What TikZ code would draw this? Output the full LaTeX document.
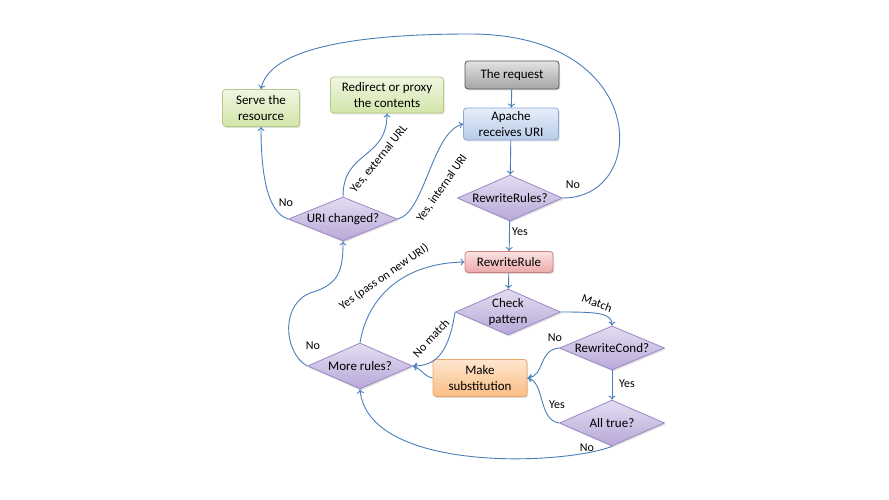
\documentclass[tikz,border=0pt]{standalone}
\usepackage{fontspec}
\setmainfont{Carlito}
\usetikzlibrary{shapes.geometric,arrows.meta,shadows}
\definecolor{linec}{HTML}{4A7EBB}
\definecolor{purptop}{HTML}{E4DDF1}
\definecolor{purpbot}{HTML}{B8A8D8}
\definecolor{purpbd}{HTML}{9A88C6}
\definecolor{greentop}{HTML}{F0F6E2}
\definecolor{greenbot}{HTML}{D2E5A9}
\definecolor{greenbd}{HTML}{B3CB85}
\definecolor{graytop}{HTML}{E2E2E2}
\definecolor{graybot}{HTML}{A5A5A5}
\definecolor{graybd}{HTML}{555555}
\definecolor{bluetop}{HTML}{E6EEF8}
\definecolor{bluebot}{HTML}{B7CBE8}
\definecolor{bluebd}{HTML}{8DA9D5}
\definecolor{redtop}{HTML}{FAE3E3}
\definecolor{redbot}{HTML}{ECA9A8}
\definecolor{redbd}{HTML}{D07E7C}
\definecolor{orgtop}{HTML}{FEE6CF}
\definecolor{orgbot}{HTML}{F9BD84}
\definecolor{orgbd}{HTML}{E8A769}
\begin{document}
\begin{tikzpicture}[x=1pt,y=-1pt,
  every node/.style={font=\fontsize{13}{16}\selectfont, align=center, text=black},
  shad/.style={drop shadow={opacity=0.25,shadow xshift=1.2pt,shadow yshift=-1.5pt}},
  box/.style={draw, rounded corners=3pt, line width=0.8pt, inner sep=0pt, shad},
  gbox/.style={box, draw=greenbd, top color=greentop, bottom color=greenbot},
  dia/.style={diamond, draw=purpbd, top color=purptop, bottom color=purpbot,
              line width=0.8pt, inner sep=0pt, shad},
  arr/.style={draw=linec, line width=0.9pt, -{To[length=4pt,width=7pt]}},
  lbl/.style={font=\fontsize{12}{14}\selectfont, inner sep=0pt}
]
\useasboundingbox (0,0) rectangle (889,500);
\fill[white] (0,0) rectangle (889,500);

% boxes
\node[gbox, minimum width=77, minimum height=37] (serve) at (261,108) {Serve the\\resource};
\node[gbox, minimum width=113, minimum height=36] (redir) at (387,95) {Redirect or proxy\\the contents};
\node[box, draw=graybd, top color=graytop, bottom color=graybot, minimum width=94, minimum height=28] (req) at (512,75) {The request};
\node[box, draw=bluebd, top color=bluetop, bottom color=bluebot, minimum width=95, minimum height=32] (apache) at (511,124) {Apache\\receives URI};
\node[box, draw=redbd, top color=redtop, bottom color=redbot, minimum width=88, minimum height=21] (rule) at (509,262) {RewriteRule};
\node[box, draw=orgbd, top color=orgtop, bottom color=orgbot, minimum width=94, minimum height=37] (subst) at (480,378) {Make\\substitution};

% diamonds
\node[dia, minimum width=105, minimum height=46, label={[name=rrt]center:RewriteRules?}] (rr) at (510,198) {};
\node[dia, minimum width=109, minimum height=44, label={[name=urit]center:URI changed?}] (uri) at (343,219) {};
\node[dia, minimum width=105, minimum height=46, label={[name=chkt,align=center]center:Check\\pattern}] (chk) at (508,312) {};
\node[dia, minimum width=105, minimum height=44, label={[name=condt]center:RewriteCond?}] (cond) at (612,348) {};
\node[dia, minimum width=105, minimum height=46, label={[name=allt]center:All true?}] (all) at (612,423) {};
\node[dia, minimum width=105, minimum height=46, label={[name=moret]center:More rules?}] (more) at (360,366) {};

% straight connectors
\draw[arr] (req) -- (apache);
\draw[arr] (apache) -- (rr);
\draw[arr] (rr) -- (rule);
\draw[arr] (rule) -- (chk);
\draw[arr] (cond) -- (all);

% curved connectors
\draw[arr] (rr.east) .. controls (650,198) and (650,34) .. (470,34)
  .. controls (330,34) and (268,55) .. (serve.north);
\draw[arr] (uri.west) .. controls (265,212) and (261,165) .. (serve.south);
\draw[arr] (uri.north) .. controls (343,150) and (387,160) .. (redir.south);
\draw[arr] (uri.east) .. controls (425,212) and (432,132) .. (apache.west);
\draw[arr] (chk.east) .. controls (598,312) and (612,313) .. (cond.north);
\draw[arr] (cond.west) .. controls (538,350) and (545,376) .. (subst.east);
\draw[arr] (all.west) .. controls (538,420) and (545,382) .. (subst.east);
\draw[arr] (all.south) .. controls (560,466) and (368,472) .. (more.south);
\draw[arr] (chk.west) .. controls (449,350) and (438,366) .. (more.east);
\draw[arr] (subst.west) .. controls (425,377) and (420,368) .. (more.east);
\draw[arr] (more.north) .. controls (368,295) and (405,263) .. (rule.west);
\draw[arr] (more.west) .. controls (283,352) and (280,302) .. (313,292)
  .. controls (340,284) and (343,268) .. (uri.south);

% labels
\node[lbl] (l1) at (573,185) {No};
\node[lbl] (l2) at (520,232) {Yes};
\node[lbl] (l3) at (286,203) {No};
\node[lbl, rotate=51] (l4) at (379,159) {Yes, external URL};
\node[lbl, rotate=55] (l5) at (442,188) {Yes, internal URI};
\node[lbl, rotate=-20] (l6) at (597,303) {Match};
\node[lbl] (l7) at (555,338) {No};
\node[lbl] (l8) at (627,384) {Yes};
\node[lbl] (l9) at (557,405) {Yes};
\node[lbl] (l10) at (587,448) {No};
\node[lbl, rotate=47] (l11) at (431,338) {No match};
\node[lbl, rotate=35] (l12) at (384,277) {Yes (pass on new URI)};
\node[lbl] (l13) at (313,346) {No};
\end{tikzpicture}
\end{document}
